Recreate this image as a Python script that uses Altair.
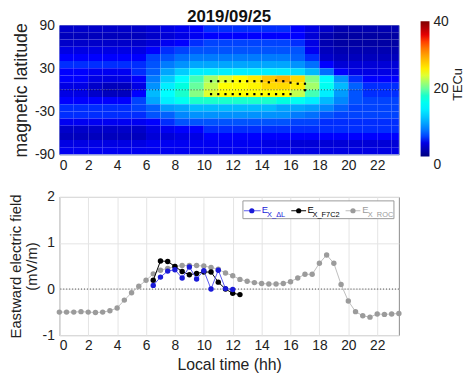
import altair as alt
import pandas as pd

# ---------------- data ----------------
LT_START = [0, 1, 2, 3, 4, 5, 6, 7, 8, 9, 10, 11, 12, 13, 14, 15, 16, 17, 18, 19, 20, 21, 22, 23]
LAT_CENTERS = [85, 75, 65, 55, 45, 35, 25, 15, 5, -5, -15, -25, -35, -45, -55, -65, -75, -85]
TEC_ROWS = [
    [3, 3, 3, 3, 3, 3, 3.5, 4, 4.5, 5, 5.5, 5.5, 5.5, 5.5, 5.5, 5.5, 5, 4, 3, 2, 2, 2, 2, 2],
    [2.5, 2.5, 2.5, 2.5, 2.5, 2.5, 3, 3.5, 4, 4.5, 5, 5, 5, 5, 5, 5, 5, 3.5, 2, 1.5, 1.5, 1.5, 1.5, 1.5],
    [3, 3, 3, 3, 3, 3, 3.5, 4.5, 5, 5.5, 6, 6, 6, 6, 6, 6, 5.5, 4, 2, 1.5, 1.5, 1.5, 1.5, 1.5],
    [4, 4, 4, 4, 4, 4, 5, 5.5, 6, 6.5, 6.5, 6.5, 6.5, 6.5, 6.5, 6.5, 6.5, 4.5, 2.5, 2, 2, 2, 2, 2],
    [5, 5, 5, 5, 5, 5, 6, 6.5, 7.5, 8, 8, 8, 8, 8, 8, 8, 7, 5.5, 3, 2.5, 2.5, 2.5, 2.5, 2.5],
    [5.5, 5.5, 5.5, 5.5, 5.5, 5.5, 6.5, 8, 9, 10, 10, 10, 10, 10, 10, 10, 9, 7.5, 5, 3.5, 3.5, 3.5, 3.5, 3.5],
    [5, 5, 4.5, 4.5, 4.5, 5.5, 7, 10, 12, 14, 14, 14, 14, 14, 14, 14, 13, 11, 7.5, 5, 4, 4, 4, 4],
    [5, 5, 4, 4, 4, 5, 8, 12, 15, 19, 22, 24, 25, 26, 28, 29, 27, 21, 15, 9, 5.5, 5, 5, 5],
    [4, 4, 3, 2.5, 2.5, 4, 9, 14, 17, 20, 23, 25, 25, 25.5, 27, 27, 26, 22, 16, 11, 7, 5.5, 5.5, 5.5],
    [4, 4, 3, 2.5, 2.5, 5, 11, 15, 18, 21, 24, 25, 25, 25, 25, 25, 23, 19, 14, 9.5, 6.5, 5.5, 5.5, 5.5],
    [5, 5, 5, 5, 5, 6, 10, 14, 16, 18, 18, 18, 18, 18, 18, 17, 16, 14, 11, 8.5, 6.5, 6, 6, 6],
    [5.5, 5.5, 5.5, 5.5, 5.5, 6, 7, 9.5, 10, 11, 11, 11, 11, 11, 11, 10, 10, 9.5, 8.5, 7, 6, 6, 6, 6],
    [5.5, 5.5, 5.5, 5.5, 5.5, 5.5, 6.5, 7, 8.5, 9, 9, 9, 9, 9, 9, 9, 8, 7.5, 6.5, 6, 6, 6, 6, 6],
    [4.5, 4.5, 4.5, 4.5, 4.5, 4.5, 5, 5.5, 6.5, 6.5, 6.5, 6.5, 6.5, 6.5, 6.5, 6.5, 6, 6, 5.5, 5.5, 5.5, 5.5, 5.5, 5.5],
    [3, 3, 3, 3, 3, 3, 4, 4.5, 5, 5, 5.5, 5.5, 5.5, 5.5, 5.5, 5.5, 5.5, 5.5, 5.5, 5.5, 5.5, 5.5, 5.5, 5.5],
    [2.5, 2.5, 2.5, 2.5, 2.5, 2.5, 3.5, 3.5, 4, 4, 5, 5, 5, 5, 5, 5, 5, 5, 5, 5, 5, 5, 5, 5],
    [4, 4, 4, 4, 4, 4, 4.5, 4.5, 4.5, 4.5, 4.5, 4.5, 4.5, 4.5, 4, 4, 3.5, 3.5, 3.5, 3.5, 3.5, 3.5, 3.5, 3.5],
    [4.5, 4.5, 4.5, 4.5, 4.5, 4.5, 4.5, 4.5, 4.5, 4.5, 4.5, 4.5, 4.5, 4.5, 4.5, 4.5, 4, 4, 4, 4, 4, 4, 4, 4],
]

NORTH_LT = [10.5, 11, 11.5, 12, 12.5, 13, 13.5, 14, 14.5, 15, 15.5, 16, 16.5, 17]
NORTH_LAT = [12, 12, 12, 12, 12, 12, 12, 12, 10.5, 13, 12, 10, 8.5, 8.5]
SOUTH_LT = [10.5, 11, 11.5, 12, 12.5, 13, 13.5, 14, 14.5, 15, 15.5, 16, 17]
SOUTH_LAT = [-6, -6, -6, -6, -6, -6, -6, -6, -6, -6, -6, -6, -0.5]

ROC_LT = [0, 0.5, 1, 1.5, 2, 2.5, 3, 3.5, 4, 4.5, 5, 5.5, 6, 6.5, 7, 7.5, 8, 8.5, 9, 9.5,
          10, 10.5, 11, 11.5, 12, 12.5, 13, 13.5, 14, 14.5, 15, 15.5, 16, 16.5, 17, 17.5,
          18, 18.5, 19, 19.5, 20, 20.5, 21, 21.5, 22, 22.5, 23, 23.5]
ROC_E = [-0.5, -0.5, -0.5, -0.49, -0.5, -0.51, -0.5, -0.47, -0.41, -0.24, -0.08, 0.06, 0.19, 0.33,
         0.41, 0.45, 0.49, 0.51, 0.51, 0.51, 0.5, 0.47, 0.43, 0.35, 0.29, 0.21, 0.17, 0.14, 0.12,
         0.11, 0.11, 0.12, 0.16, 0.24, 0.32, 0.32, 0.56, 0.74, 0.56, 0.1, -0.26, -0.49, -0.58,
         -0.61, -0.54, -0.55, -0.54, -0.53]
F7C2_LT = [6.5, 7, 7.5, 8, 8.5, 9, 9.5, 10, 10.5, 11, 11.5, 12, 12.5]
F7C2_E = [0.19, 0.61, 0.6, 0.49, 0.38, 0.31, 0.34, 0.37, 0.37, 0.15, 0.0, -0.09, -0.12]
DL_LT = [6.5, 7, 7.5, 8, 8.5, 9, 9.5, 10, 10.5, 11, 11.5, 12]
DL_E = [0.08, 0.26, 0.39, 0.42, 0.24, 0.48, 0.22, 0.4, 0.0, 0.41, 0.01, -0.01]

X_TICKS = [0, 2, 4, 6, 8, 10, 12, 14, 16, 18, 20, 22]
LAT_TICKS = [-90, -60, -30, 0, 30, 60, 90]
E_TICKS = [-1, 0, 1, 2]
CBAR_TICKS = ["40", "20", "0"]
TITLE = "2019/09/25"

FONT = "Liberation Sans"
JET_DOMAIN = [0, 5, 15, 25, 35, 40]
JET_RANGE = ["#000080", "#0000ff", "#00ffff", "#ffff00", "#ff0000", "#800000"]
HYPHEN = "replace(datum.label, '\u2212', '-')"

# ---------------- tables ----------------
rows = []
for lat, vals in zip(LAT_CENTERS, TEC_ROWS):
    for lt, v in zip(LT_START, vals):
        rows.append({"lt0": lt, "lt1": lt + 1, "lat0": lat - 5, "lat1": lat + 5, "tec": v})
heat_df = pd.DataFrame(rows)
dots_df = pd.DataFrame({"lt0": NORTH_LT + SOUTH_LT, "lat0": NORTH_LAT + SOUTH_LAT})
zero_df = pd.DataFrame({"v": [0]})
one_df = pd.DataFrame({"t": ["TECu"]})

xscale = alt.Scale(domain=[0, 23.5], nice=False, zero=False)

# ---------------- top panel ----------------
tx = alt.X("lt0:Q", scale=xscale,
           axis=alt.Axis(values=X_TICKS, title=None, ticks=False, domain=False, grid=False,
                         labelFontSize=14, labelPadding=4, labelColor="#222",
                         labelOverlap=False))
ty = alt.Y("lat0:Q", scale=alt.Scale(domain=[-90, 90], nice=False),
           axis=alt.Axis(values=LAT_TICKS, title="magnetic latitude", titleFontSize=18,
                         titleFontWeight="normal", titleColor="#222", titlePadding=4,
                         ticks=False, domain=False, grid=False, labelFontSize=14,
                         labelPadding=5, labelColor="#222", labelOverlap=False,
                         labelExpr=HYPHEN))

heat = alt.Chart(heat_df).mark_rect(clip=True).encode(
    x=tx, x2="lt1:Q", y=ty, y2="lat1:Q",
    color=alt.Color("tec:Q",
                    scale=alt.Scale(domain=JET_DOMAIN, range=JET_RANGE),
                    legend=alt.Legend(title=None, orient="none", legendX=366, legendY=-4,
                                      direction="vertical", values=[0, 40],
                                      labelExpr="''", labelFontSize=8,
                                      gradientLength=137, gradientThickness=9,
                                      gradientStrokeWidth=0)),
)

zero_top = alt.Chart(zero_df).mark_rule(color="black", strokeWidth=0.7, strokeDash=[1, 2]).encode(
    y=alt.Y("v:Q"))

dots = alt.Chart(dots_df).mark_square(size=5, color="black", opacity=1).encode(x=tx, y=ty)

tecu = alt.Chart(one_df).mark_text(angle=270, fontSize=13, color="#222", font=FONT).encode(
    text="t:N", x=alt.value(404), y=alt.value(60))

cbar_label_layers = []
for lab, ypos in zip(CBAR_TICKS, [-3, 65, 142]):
    cbar_label_layers.append(
        alt.Chart(pd.DataFrame({"t": [lab]})).mark_text(
            align="left", baseline="middle", fontSize=14, color="#222", font=FONT).encode(
            text="t:N", x=alt.value(379), y=alt.value(ypos)))

top = alt.layer(heat, zero_top, dots, tecu, *cbar_label_layers).properties(
    width=344, height=131,
    title=alt.TitleParams(TITLE, fontSize=17, fontWeight="bold", anchor="middle",
                          frame="group", offset=-17, dy=-6, color="#111"),
    view=alt.ViewBackground(stroke="#8090c0", strokeWidth=1),
)

# ---------------- bottom panel ----------------
roc_df = pd.DataFrame({"lt": ROC_LT, "e": ROC_E})
f7_df = pd.DataFrame({"lt": F7C2_LT, "e": F7C2_E})
dl_df = pd.DataFrame({"lt": DL_LT, "e": DL_E})

bx = alt.X("lt:Q", scale=xscale,
           axis=alt.Axis(values=X_TICKS, title="Local time (hh)", titleFontSize=16,
                         titleFontWeight="normal", titleColor="#222", titlePadding=4,
                         ticks=False, domain=False, grid=True, gridColor="#e4e4e4",
                         labelFontSize=14, labelPadding=4, labelColor="#222",
                         labelOverlap=False))
by = alt.Y("e:Q", scale=alt.Scale(domain=[-1, 2], nice=False),
           axis=alt.Axis(values=E_TICKS, title=["Eastward electric field", "(mV/m)"],
                         titleFontSize=15, titleLineHeight=16, titleFontWeight="normal",
                         titleColor="#222", titlePadding=3, ticks=False, domain=False,
                         grid=True, gridColor="#e4e4e4", labelFontSize=14, labelPadding=5,
                         labelColor="#222", labelOverlap=False, labelExpr=HYPHEN))


def series(df, line_color, pt_color):
    base = alt.Chart(df).encode(x=bx, y=by)
    return alt.layer(
        base.mark_line(color=line_color, strokeWidth=1),
        base.mark_circle(color=pt_color, size=30, opacity=1),
    )


zero_bot = alt.Chart(zero_df).mark_rule(color="black", strokeWidth=0.7, strokeDash=[1, 2]).encode(
    y=alt.Y("v:Q"))

legend_box = alt.Chart(zero_df).mark_rect(fill="white", stroke="#999", strokeWidth=1).encode(
    x=alt.value(186), x2=alt.value(339), y=alt.value(4), y2=alt.value(22))

legend_items = [
    ("X_\u0394L", "#5a5af0", "#1a1ad8", 187, 204, 195, 205, 210.5),
    ("X_F7C2", "black", "black", 235, 250, 242.5, 251.5, 256.5),
    ("X_ROC", "#bdbdbd", "#9b9b9b", 290, 305, 297.5, 307, 312.5),
]
leg_layers = [legend_box]
for sub, lc, pc, l0, l1, px, ex, sx in legend_items:
    leg_layers.append(alt.Chart(zero_df).mark_rule(color=lc, strokeWidth=1).encode(
        x=alt.value(l0), x2=alt.value(l1), y=alt.value(14)))
    leg_layers.append(alt.Chart(zero_df).mark_circle(color=pc, size=28, opacity=1).encode(
        x=alt.value(px), y=alt.value(14)))
    leg_layers.append(alt.Chart(pd.DataFrame({"t": ["E"]})).mark_text(
        align="left", baseline="alphabetic", fontSize=9.5, color=pc, font=FONT).encode(
        text="t:N", x=alt.value(ex), y=alt.value(16.5)))
    leg_layers.append(alt.Chart(pd.DataFrame({"t": [sub]})).mark_text(
        align="left", baseline="alphabetic", fontSize=7.5, color=pc, font=FONT).encode(
        text="t:N", x=alt.value(sx), y=alt.value(20.5)))

bottom = alt.layer(
    zero_bot,
    series(roc_df, "#bdbdbd", "#9b9b9b"),
    series(f7_df, "black", "black"),
    series(dl_df, "#5a5af0", "#1a1ad8"),
    *leg_layers,
).properties(width=344, height=140,
             view=alt.ViewBackground(stroke="#8a8a8a", strokeWidth=1))

chart = alt.vconcat(top, bottom, spacing=16).properties(
    padding={"left": 0, "top": -3, "right": 0, "bottom": 0}
).configure(font=FONT).resolve_scale(color="independent")

chart.save("out.html", embed_options={"renderer": "svg", "actions": False})
